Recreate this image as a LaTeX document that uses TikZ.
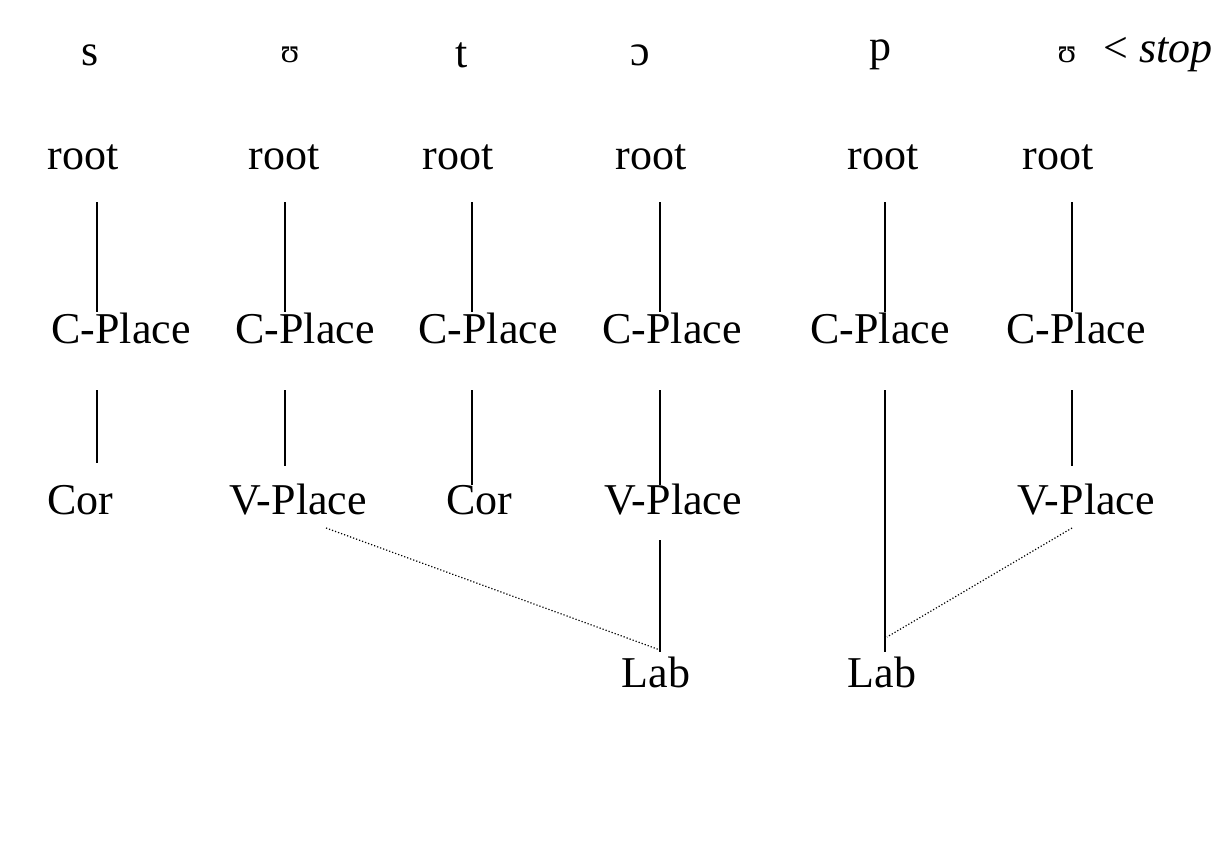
\documentclass[tikz,border=0pt]{standalone}
\usepackage{fontspec}
\setmainfont{Liberation Serif}
\begin{document}
\begin{tikzpicture}[x=1pt,y=-1pt,every node/.style={inner sep=0pt,font=\fontsize{44}{50}\selectfont},ln/.style={line width=1.6pt},dt/.style={line width=1.2pt,dotted}]
\useasboundingbox (0,0) rectangle (1226,865);
\node (s1) at (90,55) {s};
\node (s2) at (290,55) {\fontsize{34}{40}\selectfont ʊ};
\node (s3) at (462,55) {t};
\node (s4) at (640,55) {ɔ};
\node (s5) at (880,55) {p};
\node (s6) at (1067,55) {\fontsize{34}{40}\selectfont ʊ};
\node[anchor=west] (gl) at (1103,55) {< \textit{stop}};
\foreach \i/\x in {1/83,2/284,3/458,4/651,5/883,6/1058} \node (r\i) at (\x,157) {root};
\foreach \i/\x in {1/121,2/305,3/488,4/672,5/880,6/1076} \node (c\i) at (\x,328) {C-Place};
\node (d1) at (80,500) {Cor};
\node (d2) at (298,500) {V-Place};
\node (d3) at (479,500) {Cor};
\node (d4) at (673,500) {V-Place};
\node (d6) at (1086,500) {V-Place};
\node (l1) at (656,672) {Lab};
\node (l2) at (882,672) {Lab};
\foreach \i/\x in {1/97,2/285,3/472,4/660,5/885,6/1072}{
  \coordinate (a\i) at (\x,202); \coordinate (b\i) at (\x,312);
  \draw[ln] (a\i) -- (b\i);}
\foreach \i/\x/\e in {1/97/463,2/285/466,3/472/485,4/660/485,6/1072/466}{
  \coordinate (e\i) at (\x,390); \coordinate (f\i) at (\x,\e);
  \draw[ln] (e\i) -- (f\i);}
\coordinate (e5) at (885,390); \coordinate (f5) at (885,652);
\draw[ln] (e5) -- (f5);
\coordinate (g4) at (660,540); \coordinate (h4) at (660,652);
\draw[ln] (g4) -- (h4);
\coordinate (v2) at (326,528); \coordinate (v6) at (1072,528);
\coordinate (la) at (660,650); \coordinate (lb) at (887,637);
\draw[dt] (v2) -- (la);
\draw[dt] (v6) -- (lb);
\end{tikzpicture}
\end{document}
